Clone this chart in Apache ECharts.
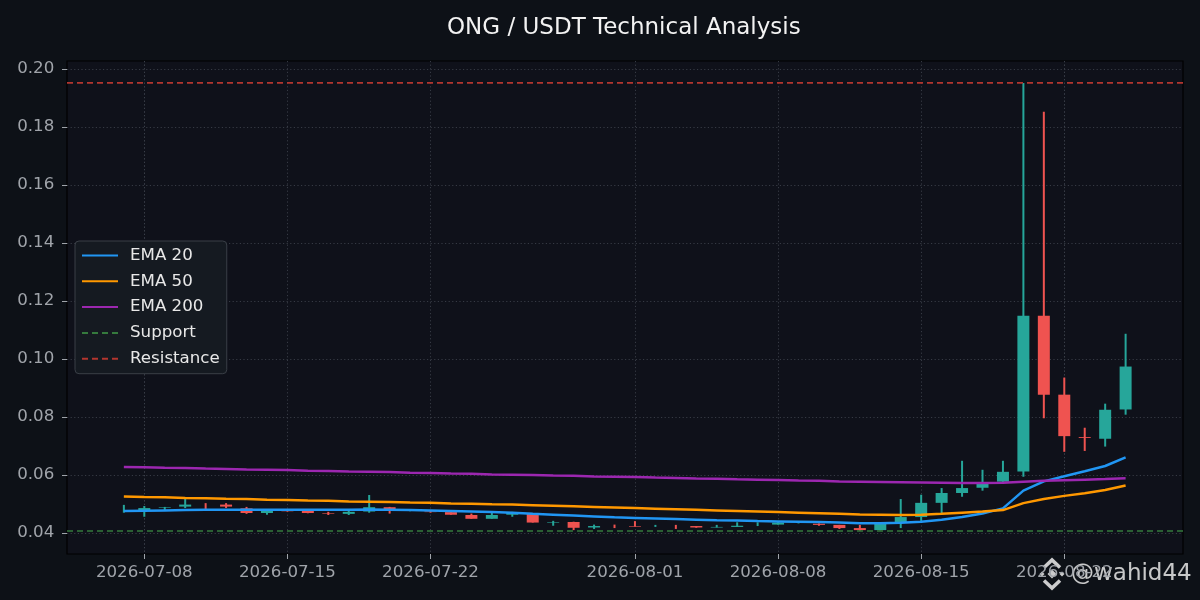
<!DOCTYPE html>
<html>
<head>
<meta charset="utf-8">
<script src="https://cdn.jsdelivr.net/npm/echarts@6/dist/echarts.min.js"></script>
<style>
html,body{margin:0;padding:0;background:#0d1117;}
#chart{width:1200px;height:600px;}
</style>
</head>
<body>
<div id="chart"></div>
<script>
// ---- data ----
const dates = [
 '2026-07-07','2026-07-08','2026-07-09','2026-07-10','2026-07-11','2026-07-12','2026-07-13','2026-07-14','2026-07-15','2026-07-16',
 '2026-07-17','2026-07-18','2026-07-19','2026-07-20','2026-07-21','2026-07-22','2026-07-23','2026-07-24','2026-07-25','2026-07-26',
 '2026-07-27','2026-07-28','2026-07-29','2026-07-30','2026-07-31','2026-08-01','2026-08-02','2026-08-03','2026-08-04','2026-08-05',
 '2026-08-06','2026-08-07','2026-08-08','2026-08-09','2026-08-10','2026-08-11','2026-08-12','2026-08-13','2026-08-14','2026-08-15',
 '2026-08-16','2026-08-17','2026-08-18','2026-08-19','2026-08-20','2026-08-21','2026-08-22','2026-08-23','2026-08-24','2026-08-25'
];
const opens = [
 0.0477,0.0477,0.0487,0.0491,0.04905,0.0498,0.0485,0.0469,0.0478,0.0477,
 0.0469,0.0466,0.0474,0.0489,0.0477,0.0474,0.0472,0.0462,0.0449,0.0463,
 0.0467,0.0436,0.0438,0.0419,0.04225,0.0424,0.0424,0.04205,0.0424,0.0419,
 0.0421,0.0430,0.0429,0.0434,0.0432,0.0428,0.0417,0.0410,0.0436,0.0455,
 0.0504,0.0538,0.0556,0.0577,0.0612,0.1149,0.0877,0.0731,0.0725,0.0826
];
const closes = [
 0.0477,0.0486,0.0489,0.0498,0.0490,0.0491,0.0469,0.0477,0.0475,0.0469,
 0.0467,0.0473,0.0489,0.0482,0.0479,0.0472,0.0463,0.0449,0.0462,0.0471,
 0.0436,0.0438,0.0418,0.0424,0.0422,0.0422,0.0424,0.0420,0.0419,0.0421,
 0.0425,0.0430,0.0436,0.0435,0.0428,0.0417,0.0410,0.0431,0.0455,0.0504,
 0.0538,0.0555,0.0574,0.0611,0.1149,0.0877,0.0734,0.0728,0.0825,0.0974
];
const lows = [
 0.0470,0.0456,0.0479,0.0486,0.0483,0.0486,0.0466,0.0463,0.0474,0.0468,
 0.0462,0.0462,0.0470,0.0467,0.0475,0.0470,0.0463,0.0449,0.0449,0.0456,
 0.0436,0.0425,0.0410,0.0414,0.0417,0.0422,0.0421,0.0414,0.0418,0.0419,
 0.0421,0.0424,0.0429,0.0433,0.0425,0.0414,0.0408,0.0409,0.0417,0.0438,
 0.0469,0.0525,0.0546,0.0576,0.0594,0.0796,0.0680,0.0683,0.0698,0.0808
];
const highs = [
 0.0497,0.0493,0.0490,0.0518,0.0503,0.0503,0.0490,0.0479,0.0479,0.0478,
 0.0473,0.0482,0.0531,0.0490,0.0480,0.0475,0.0474,0.0467,0.0470,0.0473,
 0.0468,0.0442,0.0439,0.0429,0.0429,0.0441,0.0428,0.0428,0.0424,0.0428,
 0.0437,0.0437,0.0437,0.0436,0.0433,0.0428,0.0428,0.0432,0.0517,0.0532,
 0.0555,0.0649,0.0618,0.0649,0.1952,0.1853,0.0936,0.0763,0.0846,0.1087
];
const ema20 = [
 0.0476,0.0477,0.0478,0.0479,0.0480,0.0480,0.0480,0.0480,0.0480,0.0480,
 0.0480,0.0480,0.0481,0.0480,0.0479,0.0478,0.0476,0.0474,0.0472,0.0470,
 0.0466,0.0463,0.0460,0.0457,0.0454,0.0452,0.0450,0.0448,0.0446,0.0444,
 0.0443,0.0441,0.0440,0.0439,0.0438,0.0436,0.0434,0.0434,0.0435,0.0439,
 0.0446,0.0455,0.0467,0.0485,0.0546,0.0578,0.0596,0.0613,0.0631,0.0661
];
const ema50 = [
 0.0526,0.0524,0.0523,0.0521,0.0520,0.0518,0.0517,0.0515,0.0514,0.0512,
 0.0511,0.0509,0.0508,0.0507,0.0505,0.0504,0.0502,0.0501,0.0499,0.0498,
 0.0496,0.0494,0.0492,0.0490,0.0488,0.0486,0.0484,0.0482,0.0480,0.0478,
 0.0476,0.0474,0.0472,0.0470,0.0468,0.0466,0.0464,0.0463,0.0462,0.0463,
 0.0466,0.0470,0.0474,0.0479,0.0503,0.0517,0.0528,0.0537,0.0548,0.0564
];
const ema200 = [
 0.0628,0.0627,0.0625,0.0624,0.0622,0.0621,0.0619,0.0618,0.0617,0.0615,
 0.0614,0.0612,0.0611,0.0610,0.0608,0.0607,0.0605,0.0604,0.0602,0.0601,
 0.0600,0.0598,0.0597,0.0595,0.0594,0.0593,0.0591,0.0590,0.0588,0.0587,
 0.0585,0.0584,0.0583,0.0581,0.0580,0.0578,0.0577,0.0576,0.0575,0.0574,
 0.0573,0.0572,0.0572,0.0573,0.0577,0.0580,0.0582,0.0584,0.0586,0.0589
];
const supportLevel = 0.0407;
const resistanceLevel = 0.1952;
const xTickDates = ['2026-07-08','2026-07-15','2026-07-22','2026-08-01','2026-08-08','2026-08-15','2026-08-22'];
const yTicks = [0.04,0.06,0.08,0.10,0.12,0.14,0.16,0.18,0.20];

// ---- build ----
const UP = '#26a69a', DOWN = '#ef5350';
const FONT = 'DejaVu Sans';
const DAY = 86400000;
const ts = dates.map(d => echarts.time.parse(d).getTime());
const xTicks = xTickDates.map(d => echarts.time.parse(d).getTime());
const xBase = xTicks[0];
const xMin = xBase - 3.781 * DAY;
const xMax = xBase + 50.807 * DAY;
const candleData = ts.map((t, i) => [t, opens[i], closes[i], lows[i], highs[i]]);
const lineData = arr => ts.map((t, i) => [t, arr[i]]);
const levelData = v => [[xMin, v], [xMax, v]];

const chart = echarts.init(document.getElementById('chart'), null, {renderer: 'canvas'});
const GRID_LINE = {color: '#3b4049', type: [1.2, 2.4], width: 0.9};

const option = {
  backgroundColor: '#0d1117',
  animation: false,
  textStyle: {fontFamily: FONT},
  title: {
    text: 'ONG / USDT Technical Analysis',
    left: 447,
    top: 17,
    padding: 0,
    textStyle: {color: '#f2f2f2', fontSize: 23, fontWeight: 'normal', fontFamily: FONT}
  },
  legend: {
    orient: 'vertical',
    left: 75,
    top: 241,
    padding: [6, 7, 6.5, 6],
    itemWidth: 36,
    itemHeight: 14,
    itemGap: 8.8,
    backgroundColor: '#151a21',
    borderColor: '#3a3f47',
    borderWidth: 1,
    borderRadius: 4,
    itemStyle: {opacity: 0},
    data: ['EMA 20', 'EMA 50', 'EMA 200', 'Support', 'Resistance'],
    textStyle: {color: '#e8e8e8', fontSize: 16.67, lineHeight: 16, fontFamily: FONT, padding: [0, 0, 0, 7]}
  },
  grid: {
    left: 67, right: 17, top: 61, bottom: 46,
    show: true,
    backgroundColor: '#0f111a',
    borderColor: '#000000',
    borderWidth: 1.2,
    containLabel: false
  },
  xAxis: {
    type: 'time',
    min: xMin,
    max: xMax,
    axisLine: {show: false},
    axisTick: {show: true, customValues: xTicks, length: 5, lineStyle: {color: '#a0a4aa', width: 1}},
    axisLabel: {
      customValues: xTicks,
      formatter: '{yyyy}-{MM}-{dd}',
      color: '#a0a4aa', fontSize: 16.67, fontFamily: FONT, margin: 10,
      showMinLabel: true, showMaxLabel: true
    },
    splitLine: {show: true, lineStyle: GRID_LINE}
  },
  yAxis: {
    type: 'value',
    min: 0.03276,
    max: 0.20276,
    axisLine: {show: false},
    axisTick: {show: true, customValues: yTicks, length: 5, lineStyle: {color: '#a0a4aa', width: 1}},
    axisLabel: {
      customValues: yTicks,
      formatter: v => v.toFixed(2),
      color: '#a0a4aa', fontSize: 16.67, fontFamily: FONT, margin: 12.7
    },
    splitLine: {show: true, lineStyle: GRID_LINE}
  },
  series: [
    {
      name: 'Price',
      type: 'custom',
      z: 2,
      clip: true,
      encode: {x: 0, y: [1, 2, 3, 4]},
      data: candleData,
      renderItem: function (params, api) {
        const t = api.value(0), o = api.value(1), c = api.value(2), l = api.value(3), h = api.value(4);
        const pO = api.coord([t, o]), pC = api.coord([t, c]);
        const pL = api.coord([t, l]), pH = api.coord([t, h]);
        const color = c >= o ? UP : DOWN;
        const w = 12;
        const top = Math.min(pO[1], pC[1]);
        const hh = Math.abs(pO[1] - pC[1]);
        const children = [{
          type: 'line',
          shape: {x1: pL[0], y1: pL[1], x2: pH[0], y2: pH[1]},
          style: {stroke: color, lineWidth: 2}
        }];
        if (hh > 0.4) {
          children.push({
            type: 'rect',
            shape: {x: pO[0] - w / 2, y: top, width: w, height: hh},
            style: {fill: color}
          });
        }
        return {type: 'group', children: children};
      }
    },
    {
      name: 'Support', type: 'line', z: 2, symbol: 'none', showSymbol: false,
      data: levelData(supportLevel),
      lineStyle: {color: '#357a3d', width: 1.6, type: [6, 4]}, itemStyle: {color: '#357a3d'}
    },
    {
      name: 'Resistance', type: 'line', z: 2, symbol: 'none', showSymbol: false,
      data: levelData(resistanceLevel),
      lineStyle: {color: '#b3362f', width: 1.6, type: [6, 4]}, itemStyle: {color: '#b3362f'}
    },
    {
      name: 'EMA 20', type: 'line', z: 3, symbol: 'none', showSymbol: false,
      data: lineData(ema20),
      lineStyle: {color: '#2196f3', width: 2.5}, itemStyle: {color: '#2196f3'}
    },
    {
      name: 'EMA 50', type: 'line', z: 3, symbol: 'none', showSymbol: false,
      data: lineData(ema50),
      lineStyle: {color: '#ff9800', width: 2.5}, itemStyle: {color: '#ff9800'}
    },
    {
      name: 'EMA 200', type: 'line', z: 3, symbol: 'none', showSymbol: false,
      data: lineData(ema200),
      lineStyle: {color: '#9c27b0', width: 2.5}, itemStyle: {color: '#9c27b0'}
    }
  ],
  graphic: [
    {
      type: 'group', z: 100, silent: true,
      children: [
        {type: 'polyline', shape: {points: [[1044, 567.5], [1052, 560], [1060, 567.5]]},
         style: {stroke: 'rgba(225,225,225,0.9)', lineWidth: 3.6, fill: null}},
        {type: 'polyline', shape: {points: [[1044, 580.5], [1052, 588], [1060, 580.5]]},
         style: {stroke: 'rgba(225,225,225,0.9)', lineWidth: 3.6, fill: null}},
        {type: 'polygon', shape: {points: [[1052, 569.5], [1056.5, 574], [1052, 578.5], [1047.5, 574]]},
         style: {fill: 'rgba(225,225,225,0.9)'}},
        {type: 'polygon', shape: {points: [[1042, 571.5], [1044.5, 574], [1042, 576.5], [1039.5, 574]]},
         style: {fill: 'rgba(225,225,225,0.9)'}},
        {type: 'polygon', shape: {points: [[1062, 571.5], [1064.5, 574], [1062, 576.5], [1059.5, 574]]},
         style: {fill: 'rgba(225,225,225,0.9)'}},
        {type: 'text', style: {text: '@wahid44', x: 1071, y: 574, verticalAlign: 'middle', align: 'left',
          font: '23px "DejaVu Sans"', fill: 'rgba(225,225,225,0.88)'}}
      ]
    }
  ]
};
chart.setOption(option);
</script>
</body>
</html>
